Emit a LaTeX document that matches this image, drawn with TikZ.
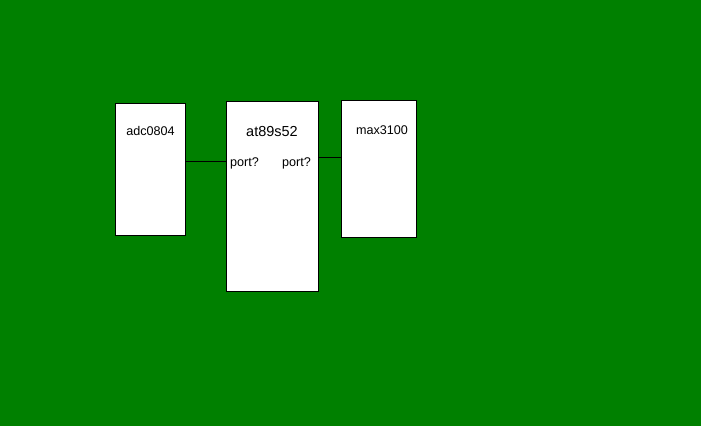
\documentclass[tikz,border=0pt]{standalone}
\usepackage{fontspec}
\setmainfont{Liberation Sans}
\definecolor{bg}{HTML}{008000}
\begin{document}
\begin{tikzpicture}[x=1pt,y=-1pt,
  blk/.style={draw=black,fill=white,line width=0.9pt},
  lbl/.style={anchor=base,inner sep=0pt,font=\fontsize{12.6}{14}\selectfont},
  big/.style={anchor=base,inner sep=0pt,font=\fontsize{14.5}{16}\selectfont},
  wire/.style={draw=black,line width=0.8pt}]
\fill[bg] (0,0) rectangle (701,426);
\useasboundingbox (0,0) rectangle (701,426);
\node[blk,minimum width=70pt,minimum height=132pt,inner sep=0pt] (adc) at (150.3,169.3) {};
\node[blk,minimum width=91.6pt,minimum height=189.6pt,inner sep=0pt] (mcu) at (272.5,196.5) {};
\node[blk,minimum width=75pt,minimum height=136.3pt,inner sep=0pt] (max) at (378.8,168.85) {};
\node[lbl] (tadc) at (150.5,135) {adc0804};
\node[big] (tmcu) at (272,136.3) {at89s52};
\node[lbl] (tmax) at (382,134.3) {max3100};
\node[lbl,anchor=base west] (p1) at (230,166.5) {port?};
\node[lbl,anchor=base west] (p2) at (282,166.5) {port?};
\draw[wire] (adc.east |- 0,161) -- (mcu.west |- 0,161);
\draw[wire] (mcu.east |- 0,157.3) -- (max.west |- 0,157.3);
\end{tikzpicture}
\end{document}
